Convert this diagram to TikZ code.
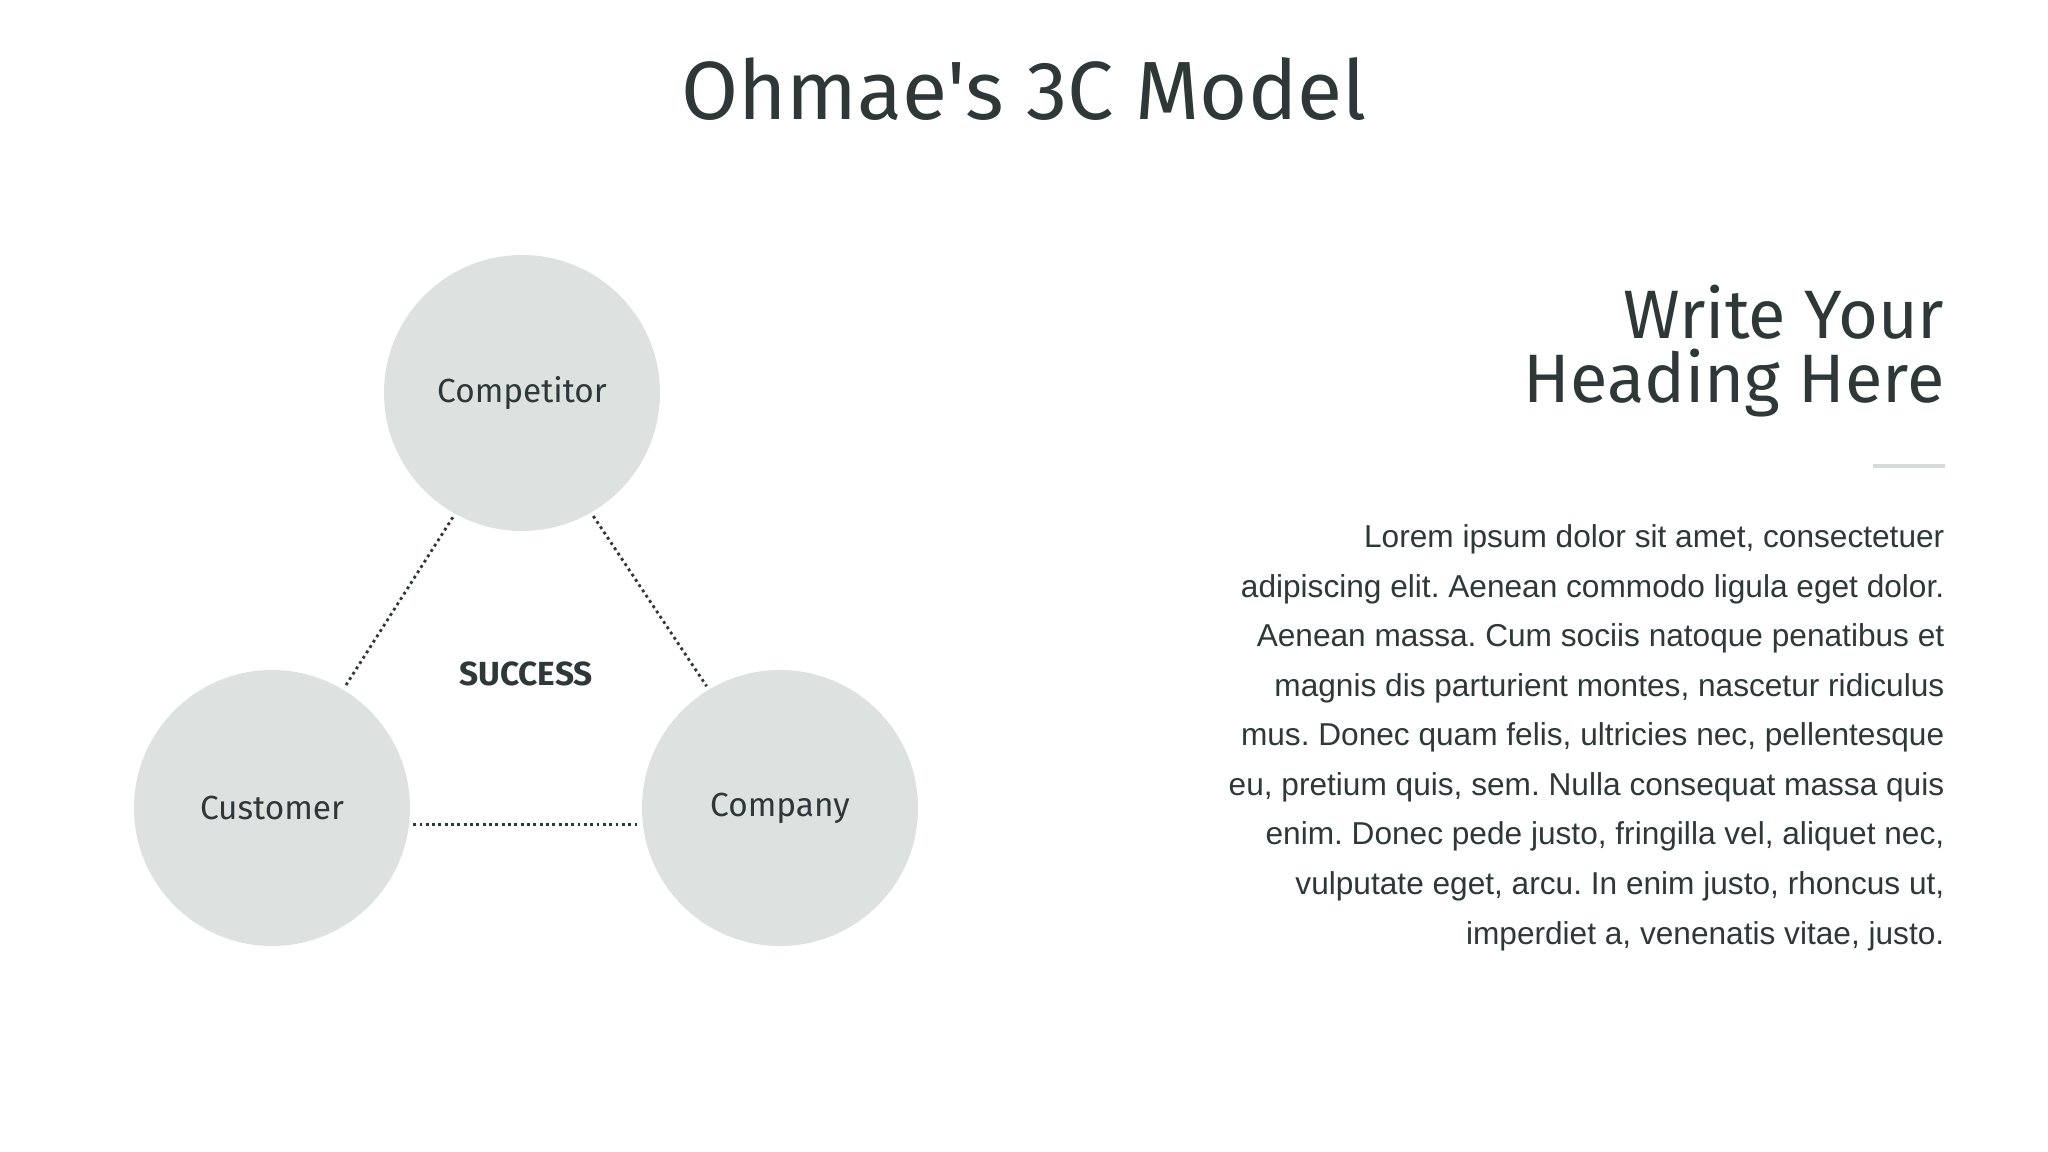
\documentclass[tikz,border=0pt]{standalone}
\usepackage{fontspec}
\setmainfont{Fira Sans}
\newfontfamily\bodyfont{Liberation Sans}
\usetikzlibrary{positioning}
\definecolor{ink}{HTML}{2E3838}
\definecolor{disc}{HTML}{DDE1E0}
\definecolor{rulegray}{HTML}{D6DADA}
\tikzset{
  factor/.style={circle,fill=disc,minimum size=2.76cm,inner sep=0pt,
    text=ink,font=\fontsize{9.5}{11}\selectfont},
  link/.style={densely dotted,ink,line width=0.8pt,shorten >=1pt,shorten <=1pt},
  heading/.style={text=ink,inner sep=0pt}
}
\begin{document}
\frenchspacing
\begin{tikzpicture}
  \useasboundingbox[fill=white] (0,0) rectangle (20.48,-11.52);
  \node[heading,font=\fontsize{23.5}{28}\selectfont] (title) at (10.24,-0.89) {Ohmae\textquotesingle s 3C Model};
  % the three C's
  \node[factor] (competitor) at (5.22,-3.93) {Competitor};
  \node[factor] (customer) at (2.72,-8.08) {Customer};
  \node[factor] (company) at (7.80,-8.08) {Company};
  \node[heading,font=\fontsize{9.5}{11}\selectfont\bfseries] (success) at (5.26,-6.74) {SUCCESS};
  \draw[link] (competitor.241) -- (customer.59);
  \draw[link] (competitor.300) -- (company.121);
  \draw[link] (customer.-7) -- (company.187);
  % text column
  \node[heading,anchor=north east,align=right,font=\fontsize{19.5}{18.2}\selectfont]
    (head) at (19.45,-2.84) {Write Your\\Heading Here};
  \coordinate (ruleR) at (19.45,-4.66);
  \coordinate[left=0.72cm of ruleR] (ruleL);
  \draw[rulegray,line width=1.2pt] (ruleL) -- (ruleR);
  \node[heading,anchor=north east,align=right,
    font=\bodyfont\fontsize{9.0}{14.1}\selectfont] (body) at (19.45,-5.24)
    {Lorem ipsum dolor sit amet, consectetuer\\
    adipiscing elit. Aenean commodo ligula eget dolor.\\
    Aenean massa. Cum sociis natoque penatibus et\\
    magnis dis parturient montes, nascetur ridiculus\\
    mus. Donec quam felis, ultricies nec, pellentesque\\
    eu, pretium quis, sem. Nulla consequat massa quis\\
    enim. Donec pede justo, fringilla vel, aliquet nec,\\
    vulputate eget, arcu. In enim justo, rhoncus ut,\\
    imperdiet a, venenatis vitae, justo.};
\end{tikzpicture}
\end{document}
